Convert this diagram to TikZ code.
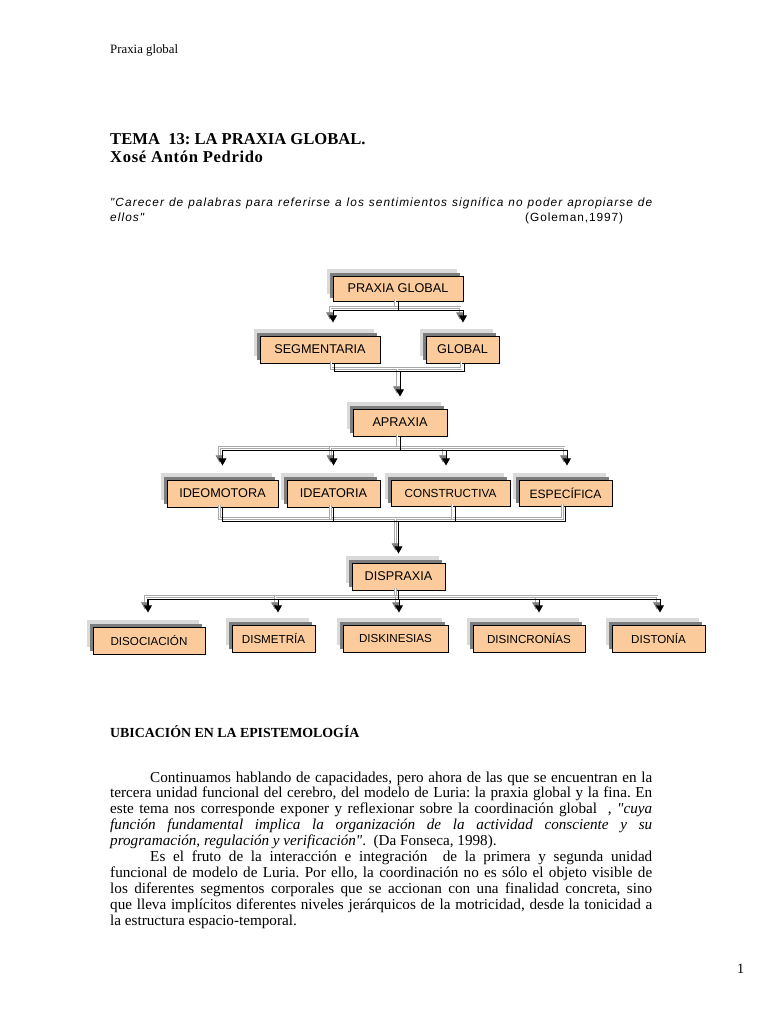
\documentclass[tikz,border=0pt]{standalone}
\usepackage{fontspec}
\setmainfont{Liberation Serif}[Ligatures=TeXOff]
\newfontfamily\arial{Liberation Sans}
\usetikzlibrary{arrows.meta,calc,shadows}
\definecolor{peach}{RGB}{251,203,155}
\definecolor{shdark}{RGB}{125,125,125}
\definecolor{shlight}{RGB}{218,218,218}
\definecolor{ghostc}{RGB}{170,170,170}
\definecolor{ghosttip}{RGB}{125,125,125}
\newcommand\allconn[2]{%
  \draw[#1] (pg.south) -- (j1);
  \draw[#2] (j1) -| (aseg);
  \draw[#2] (j1) -| (aglob);
  \draw[#1] (sseg) -- (j2a) -| (sglob);
  \draw[#2] (apr.north |- j2a) -- (aapr);
  \draw[#1] (apr.south) -- (j3);
  \draw[#2] (j3) -| (aideo);
  \draw[#2] (j3) -| (aidea);
  \draw[#2] (j3) -| (acons);
  \draw[#2] (j3) -| (aespe);
  \draw[#1] (ideo.south) -- (j4) -| (espe.south);
  \draw[#1] (idea.south) -- (idea.south |- j4);
  \draw[#1] (scons) -- (scons |- j4);
  \draw[#2] (disp.north |- j4) -- (adisp);
  \draw[#1] (disp.south) -- (j5);
  \draw[#2] (j5) -| (adiso);
  \draw[#2] (j5) -| (adism);
  \draw[#2] (j5) -| (adisk);
  \draw[#2] (j5) -| (adisi);
  \draw[#2] (j5) -| (adist);
}
\begin{document}
\frenchspacing
\begin{tikzpicture}[x=0.844pt,y=-0.844pt,
  sz/.style 2 args={minimum width=#1*0.844pt, minimum height=#2*0.844pt},
  box/.style={draw=black, line width=0.8pt, fill=peach, inner sep=0pt,
    font=\arial\fontsize{10.7}{12}\selectfont,
    general shadow={fill=shlight, shadow xshift=-5pt, shadow yshift=5.5pt},
    general shadow={fill=shdark, shadow xshift=-2.5pt, shadow yshift=2.8pt}},
  small/.style={font=\arial\fontsize{9.8}{11}\selectfont},
  txt/.style={anchor=base west, inner sep=0pt},
  bl/.style={txt, font=\fontsize{12.8}{14}\selectfont},
  ink/.style={draw=black, line width=0.85pt},
  inkarrow/.style={ink, -{Triangle[width=6.5pt,length=6pt]}},
  ghost/.style={draw=ghostc, line width=0.45pt, double=white, double distance=0.9pt,
    transform canvas={shift={(-2.5pt,2.5pt)}}},
  ghostarrow/.style={ghost, -{Triangle[width=6.5pt,length=6pt,fill=ghosttip,color=ghosttip]}}
]
\fill[white] (0,0) rectangle (768,1024);
\useasboundingbox (0,0) rectangle (768,1024);

% header and title
\node[txt, font=\fontsize{10.8}{13}\selectfont] (hdr) at (110,54) {Praxia global};
\node[txt, font=\bfseries\fontsize{14}{16}\selectfont] (t1) at (110,144) {TEMA\ \ 13: LA PRAXIA GLOBAL.};
\node[txt, font=\bfseries\fontsize{14}{16}\selectfont\addfontfeatures{LetterSpace=4}] (t2) at (110,162) {Xosé Antón Pedrido};
\node[txt, font=\arial\itshape\fontsize{10}{12}\selectfont\addfontfeatures{LetterSpace=9}] (q1) at (110,206)
  {\makebox[457.4pt][s]{"Carecer de palabras para referirse a los sentimientos significa no poder apropiarse de}};
\node[txt, font=\arial\itshape\fontsize{10}{12}\selectfont\addfontfeatures{LetterSpace=9}] (q2) at (110,221) {ellos"};
\node[txt, font=\arial\fontsize{10}{12}\selectfont\addfontfeatures{LetterSpace=8}] (q3) at (525,221) {(Goleman,1997)};

% boxes
\node[box, sz={130}{25}] (pg) at (398,288.5) {PRAXIA GLOBAL};
\node[box, sz={120}{27}] (seg) at (320,349.5) {SEGMENTARIA};
\node[box, sz={73}{27}] (glob) at (462.5,349.5) {GLOBAL};
\node[box, sz={94}{27}] (apr) at (400,422.5) {APRAXIA};
\node[box, sz={111}{27}] (ideo) at (222.5,493.5) {IDEOMOTORA};
\node[box, sz={93}{27}] (idea) at (333.5,493.5) {IDEATORIA};
\node[box, sz={119}{26}, font=\arial\fontsize{9.9}{11}\selectfont] (cons) at (450.5,493) {CONSTRUCTIVA};
\node[box, sz={93}{26}, font=\arial\fontsize{10.2}{11}\selectfont] (espe) at (565.5,493) {ESPECÍFICA};
\node[box, sz={93}{27}] (disp) at (398.5,576.5) {DISPRAXIA};
\node[box, sz={112}{27}, small] (diso) at (149,640.5) {DISOCIACIÓN};
\node[box, sz={83}{27}, small] (dism) at (273.5,638.5) {DISMETRÍA};
\node[box, sz={105}{27}, small] (disk) at (395.5,638.5) {DISKINESIAS};
\node[box, sz={112}{27}, small] (disi) at (529,638.5) {DISINCRONÍAS};
\node[box, sz={93}{27}, small] (dist) at (658.5,638.5) {DISTONÍA};

% connector points
\coordinate (j1) at ($(pg.south)+(0,9)$);
\coordinate (aseg) at ($(seg.north)+(13,-13)$);
\coordinate (aglob) at ($(glob.north)+(0.5,-13)$);
\coordinate (sseg) at ($(seg.south)+(14,0)$);
\coordinate (sglob) at ($(glob.south)+(1.5,0)$);
\coordinate (j2a) at ($(sseg)+(0,8)$);
\coordinate (aapr) at ($(apr.north)+(0,-12)$);
\coordinate (j3) at ($(apr.south)+(0,14)$);
\coordinate (aideo) at ($(ideo.north)+(0,-14)$);
\coordinate (aidea) at ($(idea.north)+(0,-14)$);
\coordinate (acons) at ($(cons.north)+(-4.5,-14)$);
\coordinate (aespe) at ($(espe.north)+(1.5,-14)$);
\coordinate (j4) at ($(ideo.south)+(0,14)$);
\coordinate (scons) at ($(cons.south)+(4.5,0)$);
\coordinate (adisp) at ($(disp.north)+(0,-9)$);
\coordinate (j5) at ($(disp.south)+(0,9)$);
\coordinate (adiso) at ($(diso.north)+(-1,-14)$);
\coordinate (adism) at ($(dism.north)+(4.5,-12)$);
\coordinate (adisk) at ($(disk.north)+(3.5,-12)$);
\coordinate (adisi) at ($(disi.north)+(10,-12)$);
\coordinate (adist) at ($(dist.north)+(1.5,-12)$);

\allconn{ghost}{ghostarrow}
\allconn{ink}{inkarrow}

% body text
\node[txt, font=\bfseries\fontsize{11.7}{13.7}\selectfont] (sec) at (110,737) {UBICACIÓN EN LA EPISTEMOLOGÍA};
\node[bl] (b1) at (150,782) {\makebox[423.7pt][s]{Continuamos hablando de capacidades, pero ahora de las que se encuentran en la}};
\node[bl] (b2) at (110,797.9) {\makebox[457.4pt][s]{tercera unidad funcional del cerebro, del modelo de Luria: la praxia global y la fina. En}};
\node[bl] (b3) at (110,813.8) {\makebox[457.4pt][s]{este tema nos corresponde exponer y reflexionar sobre la coordinación global\ \ , \textit{"cuya}}};
\node[bl] (b4) at (110,829.7) {\makebox[457.4pt][s]{\textit{función fundamental implica la organización de la actividad consciente y su}}};
\node[bl] (b5) at (110,845.6) {\textit{programación, regulación y verificación"}.\ \ (Da Fonseca, 1998).};
\node[bl] (b6) at (150,861.4) {\makebox[423.7pt][s]{Es el fruto de la interacción e integración\ \ de la primera y segunda unidad}};
\node[bl] (b7) at (110,877.3) {\makebox[457.4pt][s]{funcional de modelo de Luria. Por ello, la coordinación no es sólo el objeto visible de}};
\node[bl] (b8) at (110,893.2) {\makebox[457.4pt][s]{los diferentes segmentos corporales que se accionan con una finalidad concreta, sino}};
\node[bl] (b9) at (110,909.1) {\makebox[457.4pt][s]{que lleva implícitos diferentes niveles jerárquicos de la motricidad, desde la tonicidad a}};
\node[bl] (b10) at (110,925) {la estructura espacio-temporal.};
\node[txt, font=\fontsize{12}{13.7}\selectfont] (pnum) at (737,973) {1};
\end{tikzpicture}
\end{document}
